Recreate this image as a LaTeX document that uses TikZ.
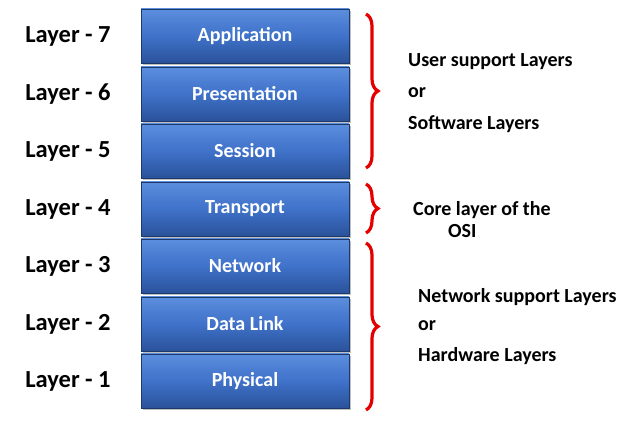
\documentclass[tikz,border=0pt]{standalone}
\usepackage{fontspec}
\setmainfont{Carlito}
\usetikzlibrary{decorations.pathreplacing,shadows}
\definecolor{bt}{HTML}{5B8EDD}
\definecolor{bm}{HTML}{3F72C9}
\definecolor{bb}{HTML}{2A529A}
\begin{document}
\begin{tikzpicture}[x=1pt,y=-1pt,
 layer/.style={draw=bb!70!black,line width=0.6pt,minimum width=208pt,minimum height=54pt,
   top color=bt,bottom color=bb,middle color=bm,
   text=white,font=\fontsize{20}{22}\bfseries\selectfont,
   drop shadow={shadow xshift=2pt,shadow yshift=-2pt,opacity=0.5},inner sep=0pt},
 lab/.style={font=\fontsize{24.5}{26}\bfseries\selectfont,text=black},
 note/.style={font=\fontsize{20}{22}\bfseries\selectfont,anchor=west,inner sep=0pt},
 br/.style={draw=red!90!black,line width=3.2pt,decorate,decoration={brace,amplitude=12pt}}]
\useasboundingbox (0,0) rectangle (640,430);
\foreach \n/\t/\y/\k in {7/Application/36/a,6/Presentation/94/b,5/Session/151/c,4/Transport/209/d,3/Network/266/e,2/Data Link/324/f,1/Physical/381/g}{
  \node[layer] (\k) at (245,\y) {\t};
  \node[lab] (l\k) at (68,\y) {Layer - \n};
}
\coordinate (b1s) at (366,14); \coordinate (b1e) at (366,168);
\coordinate (b2s) at (366,184); \coordinate (b2e) at (366,233);
\coordinate (b3s) at (366,243); \coordinate (b3e) at (366,410);
\draw[br] (b1s) -- (b1e);
\draw[br] (b2s) -- (b2e);
\draw[br] (b3s) -- (b3e);
\node[note] (u1) at (408,62) {User support Layers};
\node[note] (u2) at (408,93) {or};
\node[note] (u3) at (408,124) {Software Layers};
\node[note] (c1) at (413,210) {Core layer of the};
\node[note] (c2) at (448,231) {OSI};
\node[note] (n1) at (418,297) {Network support Layers};
\node[note] (n2) at (418,326) {or};
\node[note] (n3) at (418,356) {Hardware Layers};
\end{tikzpicture}
\end{document}
